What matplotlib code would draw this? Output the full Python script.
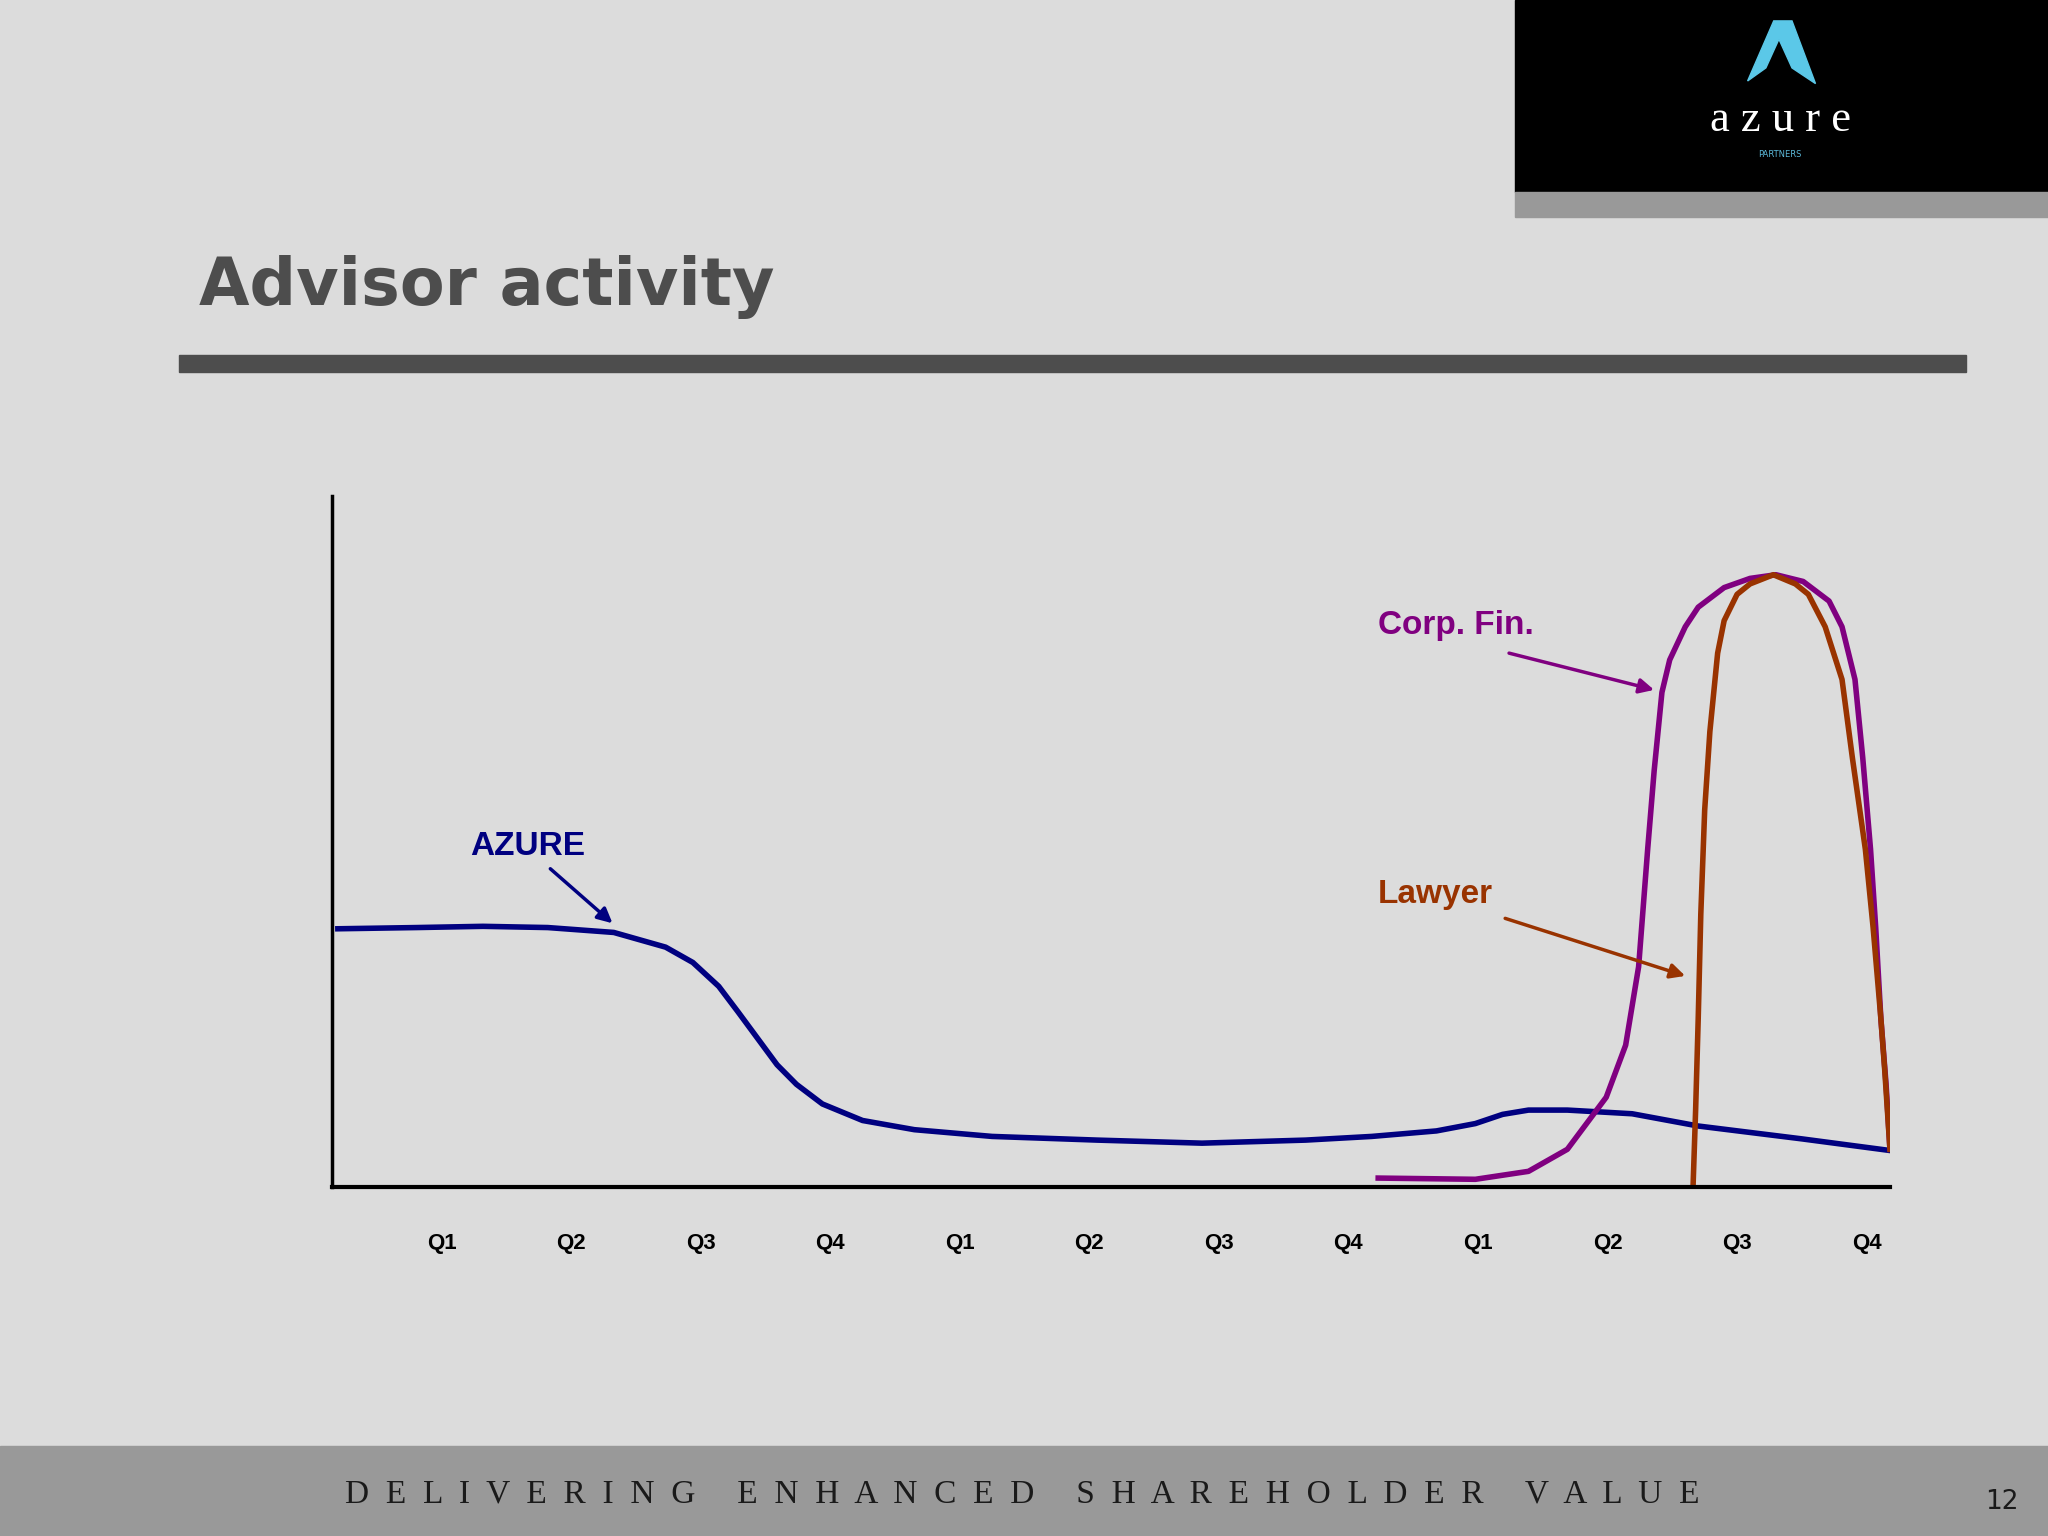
import matplotlib
matplotlib.use("Agg")
import matplotlib.pyplot as plt
from matplotlib.patches import Rectangle, Polygon

quarters = ["Q1", "Q2", "Q3", "Q4"] * 3
azure_x = [0.20, 0.81, 1.32, 1.82, 2.33, 2.73, 2.94, 3.14, 3.29, 3.44, 3.59, 3.74, 3.94, 4.25, 4.65, 5.25, 6.06, 6.87, 7.67, 8.18, 8.68, 8.98, 9.19, 9.39, 9.69, 10.19, 10.70, 11.50, 12.18]
azure_y = [42.2, 42.4, 42.6, 42.4, 41.6, 39.2, 36.7, 32.8, 28.6, 24.3, 20.0, 16.8, 13.6, 10.9, 9.4, 8.3, 7.7, 7.2, 7.7, 8.3, 9.2, 10.4, 11.9, 12.6, 12.6, 12.0, 10.0, 7.9, 6.0]
corp_x = [8.23, 8.98, 9.39, 9.69, 9.99, 10.14, 10.24, 10.31, 10.36, 10.42, 10.48, 10.60, 10.70, 10.90, 11.10, 11.30, 11.51, 11.71, 11.81, 11.91, 11.97, 12.03, 12.07, 12.11, 12.15, 12.18]
corp_y = [1.5, 1.3, 2.6, 6.2, 14.7, 23.2, 36.0, 55.2, 68.0, 80.8, 86.1, 91.5, 94.7, 97.9, 99.4, 100, 98.9, 95.7, 91.5, 82.9, 70.1, 55.2, 42.4, 27.5, 16.8, 6.2]
law_x = [10.66, 10.68, 10.70, 10.72, 10.75, 10.79, 10.85, 10.90, 11.00, 11.10, 11.28, 11.45, 11.55, 11.68, 11.81, 11.89, 11.99, 12.05, 12.11, 12.14, 12.18]
law_y = [0, 12.6, 27.5, 44.6, 61.6, 74.4, 87.2, 92.5, 96.8, 98.5, 100, 98.5, 96.8, 91.5, 82.9, 70.1, 55.2, 42.4, 27.5, 19.0, 6.2]

W, H = 1568, 1176
fig = plt.figure(figsize=(20.48, 15.36), dpi=100, facecolor="#dcdcdc")

def fx(px): return px / W
def fy(py): return 1 - py / H

# logo
fig.patches.append(Rectangle((fx(1160), fy(147)), 1 - fx(1160), 147 / H, transform=fig.transFigure, color="black"))
fig.patches.append(Rectangle((fx(1160), fy(166)), 1 - fx(1160), 19 / H, transform=fig.transFigure, color="#999999"))
fig.patches.append(Polygon([(fx(1338), fy(62)), (fx(1358), fy(16)), (fx(1372), fy(16)), (fx(1390), fy(64)), (fx(1372), fy(52)), (fx(1362), fy(30)), (fx(1352), fy(52))],
                           closed=True, transform=fig.transFigure, color="#5bc8e8"))
fig.text(fx(1363), fy(92), "a z u r e", color="white", fontsize=32, ha="center", va="center", family="Liberation Serif")
fig.text(fx(1363), fy(118), "PARTNERS", color="#5bb8d8", fontsize=6, ha="center", va="center")

# title and rule
fig.text(fx(152), fy(220), "Advisor activity", color="#4d4d4d", fontsize=47, fontweight="bold", ha="left", va="center")
fig.patches.append(Rectangle((fx(137), fy(285)), fx(1505) - fx(137), 13 / H, transform=fig.transFigure, color="#4d4d4d"))

# footer
fig.patches.append(Rectangle((0, 0), 1, 69 / H, transform=fig.transFigure, color="#999999"))
fig.text(fx(783), fy(1144), "D  E  L  I  V  E  R  I  N  G     E  N  H  A  N  C  E  D     S  H  A  R  E  H  O  L  D  E  R     V  A  L  U  E",
         color="#1a1a1a", fontsize=24, ha="center", va="center", family="Liberation Serif")
fig.text(fx(1533), fy(1150), "12", color="#1a1a1a", fontsize=19, ha="center", va="center")

ax = fig.add_axes([fx(254), fy(909), fx(1447) - fx(254), (909 - 380) / H])
ax.set_facecolor("none")
ax.set_xlim(0.153, 12.18)
ax.set_ylim(0, 112.8)
for s in ["top", "right"]:
    ax.spines[s].set_visible(False)
ax.spines["left"].set_linewidth(2.5)
ax.spines["bottom"].set_linewidth(3)
ax.set_yticks([])
ax.set_xticks(range(1, 13))
ax.set_xticklabels(quarters, fontsize=16, fontweight="bold", family="Liberation Sans")
ax.tick_params(axis="x", length=0, pad=33)

ax.plot(azure_x, azure_y, color="#000080", lw=4, solid_joinstyle="round")
ax.plot(corp_x, corp_y, color="#800080", lw=4, solid_joinstyle="round")
ax.plot(law_x, law_y, color="#993300", lw=4, solid_joinstyle="round")

def lab(t, x, y, c, tx, ty, hx, hy):
    ax.text(x, y, t, color=c, fontsize=24, fontweight="bold", family="Liberation Sans", ha="left", va="center")
    ax.annotate("", xy=(hx, hy), xytext=(tx, ty),
                arrowprops=dict(arrowstyle="-|>", color=c, lw=2.5, mutation_scale=22, shrinkA=0, shrinkB=0))

lab("Corp. Fin.", 8.23, 91.7, "#800080", 9.24, 87.2, 10.36, 81.2)
lab("Lawyer", 8.23, 47.8, "#993300", 9.21, 43.9, 10.60, 34.5)
lab("AZURE", 1.22, 55.6, "#000080", 1.84, 52.0, 2.32, 43.1)

fig.savefig("out.png", dpi=100, facecolor=fig.get_facecolor())
